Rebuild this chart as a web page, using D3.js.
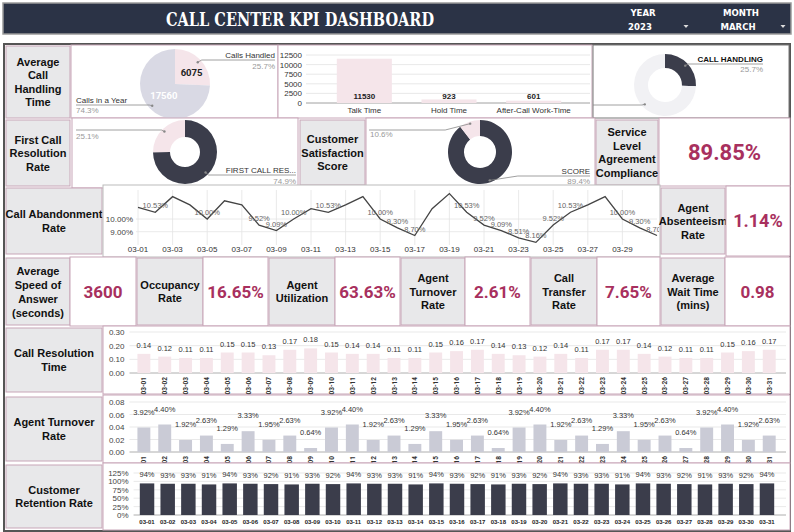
<!DOCTYPE html>
<html>
<head>
<meta charset="utf-8">
<script src="https://cdn.jsdelivr.net/npm/d3@7"></script>
<style>body{margin:0;background:#fff}</style>
</head>
<body>
<div id="dash"></div>
<script>
// Data
var days = ["03-01","03-02","03-03","03-04","03-05","03-06","03-07","03-08","03-09","03-10",
  "03-11","03-12","03-13","03-14","03-15","03-16","03-17","03-18","03-19","03-20",
  "03-21","03-22","03-23","03-24","03-25","03-26","03-27","03-28","03-29","03-30","03-31"];
var callsCats = ["Calls Handled", "Calls in a Year"];
var callsValues = [6075, 17560];
var handlingCats = ["Talk Time", "Hold Time", "After-Call Work-Time"];
var handlingTimes = [11530, 923, 601];
var handlingTicks = [0, 2500, 5000, 7500, 10000, 12500];
var callHandlingShare = [25.7, 74.3];
var fcrShare = [74.9, 25.1];
var csatShare = [89.4, 10.6];
var abandonRate = [10.92,10.53,11.76,11.11,10.00,11.43,11.11,9.52,9.09,10.00,10.81,10.53,11.11,11.76,10.00,9.30,
  8.70,10.81,12.00,10.53,9.52,9.09,8.51,8.16,9.52,10.53,11.11,11.76,10.00,9.30,8.70];
var resolutionTime = [0.14,0.12,0.11,0.11,0.15,0.15,0.13,0.17,0.18,0.15,0.14,0.14,0.11,0.11,0.15,0.16,
  0.17,0.14,0.13,0.12,0.14,0.11,0.17,0.17,0.14,0.12,0.11,0.11,0.15,0.16,0.17];
var turnoverRate = [0.0392,0.0440,0.0192,0.0263,0.0129,0.0333,0.0195,0.0263,0.0064,0.0392,0.0440,0.0192,0.0263,
  0.0129,0.0333,0.0195,0.0263,0.0064,0.0392,0.0440,0.0192,0.0263,0.0129,0.0333,0.0195,0.0263,0.0064,0.0392,0.0440,0.0192,0.0263];
var retentionRate = [0.94,0.93,0.93,0.91,0.94,0.93,0.92,0.91,0.93,0.92,0.94,0.93,0.93,0.91,0.94,0.93,
  0.92,0.91,0.93,0.92,0.94,0.93,0.93,0.91,0.94,0.93,0.92,0.91,0.93,0.92,0.94];

var W = 794, H = 532;
var pink = "#f5e5ea", lav = "#d9d9e4", dark = "#3b3d4b", crimson = "#a8305e", line = "#c8a6b8";

var svg = d3.select("#dash").append("svg")
  .attr("width", W).attr("height", H)
  .style("font-family", "Roboto, sans-serif");

// Header
svg.append("rect").attr("x", 3).attr("y", 3).attr("width", 788).attr("height", 31)
  .attr("fill", "#2b3346").attr("stroke", "#9a9a9a").attr("stroke-width", 1.5);
svg.append("text").attr("x", 300).attr("y", 26).attr("text-anchor", "middle").attr("fill", "#fff")
  .style("font-family", "'DejaVu Serif Condensed', 'DejaVu Serif', serif")
  .style("font-weight", "bold").style("font-size", "19px")
  .attr("textLength", 268).attr("lengthAdjust", "spacingAndGlyphs")
  .text("CALL CENTER KPI DASHBOARD");

function headerPick(x, title, val, ax) {
  svg.append("text").attr("x", x).attr("y", 16).attr("text-anchor", "middle").attr("fill", "#fff")
    .style("font-family", "'DejaVu Sans Condensed', sans-serif").style("font-weight", "bold")
    .style("font-size", "9.5px").text(title);
  svg.append("text").attr("x", x - 3).attr("y", 30).attr("text-anchor", "middle").attr("fill", "#fff")
    .style("font-family", "'DejaVu Sans Condensed', sans-serif").style("font-weight", "bold")
    .style("font-size", "9.5px").text(val);
  svg.append("path").attr("d", "M" + (ax - 2.5) + ",25 L" + (ax + 2.5) + ",25 L" + ax + ",28 Z").attr("fill", "#ddd");
}
headerPick(643, "YEAR", "2023", 686);
headerPick(741, "MONTH", "MARCH", 783);

// Outer frame
svg.append("rect").attr("x", 4).attr("y", 44).attr("width", 786).attr("height", 487)
  .attr("fill", "#fff").attr("stroke", "#555").attr("stroke-width", 2);

// Helpers
function panel(x, y, w, h, stroke) {
  svg.append("rect").attr("x", x).attr("y", y).attr("width", w).attr("height", h)
    .attr("fill", "#fff").attr("stroke", stroke || line).attr("stroke-width", 1);
}
function labelCell(x, y, w, h, lines, lh) {
  lh = lh || 13.5;
  svg.append("rect").attr("x", x).attr("y", y).attr("width", w).attr("height", h)
    .attr("fill", "#e8e8ea").attr("stroke", line).attr("stroke-width", 1);
  var cy = y + h / 2, cx = x + w / 2;
  var t = svg.append("text").attr("text-anchor", "middle").attr("fill", "#111")
    .style("font-family", "'Liberation Sans', Arial, sans-serif")
    .style("font-weight", "bold").style("font-size", "11px");
  lines.forEach(function (s, i) {
    t.append("tspan").attr("x", cx).attr("y", cy - (lines.length - 1) * lh / 2 + 4 + i * lh).text(s);
  });
}
function valueCell(x, y, w, h, txt, fs) {
  panel(x, y, w, h);
  svg.append("text").attr("x", x + w / 2).attr("y", y + h / 2 + (fs || 17) * 0.36)
    .attr("text-anchor", "middle").attr("fill", crimson)
    .style("font-weight", "bold").style("font-size", (fs || 17) + "px").text(txt);
}
function leader(cx, cy, r, ang, yLine, xEnd, ed) {
  var px = cx + Math.sin(ang) * r, py = cy - Math.cos(ang) * r;
  var dir = xEnd > px ? 1 : -1;
  svg.append("polyline")
    .attr("points", [[px, py], [px + dir * ed, yLine], [xEnd, yLine]].map(function (p) { return p.join(","); }).join(" "))
    .attr("fill", "none").attr("stroke", "#888").attr("stroke-width", 0.8);
  svg.append("circle").attr("cx", px).attr("cy", py).attr("r", 1.2).attr("fill", "#888");
}
function chartText(x, y, txt, anchor, color, weight, parent) {
  return (parent || svg).append("text").attr("x", x).attr("y", y).attr("text-anchor", anchor || "start")
    .attr("fill", color || "#333").style("font-size", "8px")
    .style("font-family", "'Liberation Sans', Arial, sans-serif")
    .style("font-weight", weight || "normal").text(txt);
}
function drawPie(cx, cy, rO, rI, values, colors) {
  var arcs = d3.pie().sort(null)(values);
  var arc = d3.arc().innerRadius(rI).outerRadius(rO);
  svg.append("g").attr("transform", "translate(" + cx + "," + cy + ")")
    .selectAll("path").data(arcs).enter().append("path")
    .attr("d", arc).attr("fill", function (d, i) { return colors[i]; });
  return arcs;
}
function mid(a) { return (a.startAngle + a.endAngle) / 2; }

// Row 1
labelCell(6, 46, 64, 72, ["Average", "Call", "Handling", "Time"]);
panel(71, 45, 207, 73);
panel(278, 45, 314, 73);
panel(593, 45, 196, 73, "#777");

// Pie: calls handled
var pcx = 175, pcy = 84, pr = 35;
var pArcs = drawPie(pcx, pcy, pr, 0, callsValues, [pink, lav]);
var c0 = d3.arc().innerRadius(0).outerRadius(pr * 1.15).centroid(pArcs[0]);
svg.append("text").attr("x", pcx + c0[0] + 2).attr("y", pcy + c0[1] + 6).attr("text-anchor", "middle")
  .attr("fill", "#222").style("font-weight", "bold").style("font-size", "9.5px").text(callsValues[0]);
var c1 = d3.arc().innerRadius(0).outerRadius(pr * 1.2).centroid(pArcs[1]);
svg.append("text").attr("x", pcx + c1[0] + 4).attr("y", pcy + c1[1]).attr("text-anchor", "middle")
  .attr("fill", "#fff").style("font-weight", "bold").style("font-size", "9.5px").text(callsValues[1]);
leader(pcx, pcy, pr * 0.9, mid(pArcs[0]), 60, 275, 4);
chartText(275, 58, callsCats[0], "end");
chartText(275, 69, "25.7%", "end", "#999");
leader(pcx, pcy, pr * 0.9, mid(pArcs[1]), 105, 76, 3);
chartText(76, 103, callsCats[1]);
chartText(76, 113, "74.3%", "start", "#999");

// Bar: handling times
var hx = d3.scaleBand().domain(handlingCats).range([322, 576]).paddingInner(0.35).paddingOuter(0.175);
var hy = d3.scaleLinear().domain([0, 12500]).range([103, 55]);
svg.append("g").selectAll("line").data(handlingTicks).enter().append("line")
  .attr("x1", 306).attr("x2", 590).attr("y1", function (d) { return hy(d); }).attr("y2", function (d) { return hy(d); })
  .attr("stroke", function (d) { return d === 0 ? "#888" : "#e2e2e2"; }).attr("stroke-width", 0.8);
handlingTicks.forEach(function (t) { chartText(302, hy(t) + 3, t, "end"); });
svg.append("g").selectAll("rect").data(handlingTimes).enter().append("rect")
  .attr("x", function (d, i) { return hx(handlingCats[i]); })
  .attr("width", hx.bandwidth())
  .attr("y", function (d) { return hy(d); })
  .attr("height", function (d) { return hy(0) - hy(d); })
  .attr("fill", pink);
handlingTimes.forEach(function (v, i) {
  var c = hx(handlingCats[i]) + hx.bandwidth() / 2;
  chartText(c, 99, v, "middle", "#222", "bold");
  chartText(c, 113, handlingCats[i], "middle");
});

// Donut: call handling
var dArcs = drawPie(665, 85, 31, 17, callHandlingShare, [dark, "#f1f1f4"]);
leader(665, 85, 28, mid(dArcs[0]), 64, 763, 3);
chartText(763, 62, "CALL HANDLING", "end", "#111", "bold");
chartText(763, 72, "25.7%", "end", "#999");
leader(665, 85, 28, mid(dArcs[1]), 105, 593, 3);

// Row 2
labelCell(6, 120, 64, 66, ["First Call", "Resolution", "Rate"]);
panel(72, 118, 226, 70);
var fArcs = drawPie(185, 152, 32, 15, fcrShare, [dark, pink]);
leader(185, 152, 29, mid(fArcs[1]), 130, 76, 3);
chartText(76, 139, "25.1%", "start", "#999");
leader(185, 152, 29, mid(fArcs[0]), 175, 296, 3);
chartText(296, 173, "FIRST CALL RES...", "end");
chartText(296, 184, "74.9%", "end", "#999");

labelCell(300, 120, 65, 65, ["Customer", "Satisfaction", "Score"]);
panel(366, 118, 229, 68);
var sArcs = drawPie(480, 152, 32, 16, csatShare, [dark, pink]);
leader(480, 152, 30, mid(sArcs[1]), 130, 369, 25);
chartText(370, 137, "10.6%", "start", "#999");
leader(480, 152, 30, mid(sArcs[0]), 176, 590, 28);
chartText(590, 174, "SCORE", "end");
chartText(590, 184, "89.4%", "end", "#999");

labelCell(596, 120, 62, 65, ["Service", "Level", "Agreement", "Compliance"]);
valueCell(659, 118, 131, 68, "89.85%", 22);

// Row 3: abandonment line
labelCell(6, 188, 96, 66, ["Call Abandonment", "Rate"]);
panel(103, 185, 557, 72, "#bbb");
svg.append("clipPath").attr("id", "lineClip").append("rect")
  .attr("x", 104).attr("y", 186).attr("width", 555).attr("height", 70);
var lg = svg.append("g").attr("clip-path", "url(#lineClip)");
var lx = d3.scalePoint().domain(days).range([138, 657]);
var ly = d3.scaleLinear().domain([8, 12]).range([244.4, 193.6]);
var xTicks = days.filter(function (d, i) { return i % 2 === 0 && i < 30; });
lg.append("g").selectAll("line").data(xTicks).enter().append("line")
  .attr("x1", function (d) { return lx(d); }).attr("x2", function (d) { return lx(d); })
  .attr("y1", 190).attr("y2", 245).attr("stroke", "#e4e4e4").attr("stroke-width", 0.8);
lg.append("g").selectAll("line").data([9, 10]).enter().append("line")
  .attr("x1", 136).attr("x2", 657).attr("y1", function (d) { return ly(d); }).attr("y2", function (d) { return ly(d); })
  .attr("stroke", "#e4e4e4").attr("stroke-width", 0.8);
[9, 10].forEach(function (t) { chartText(133, ly(t) + 3, d3.format(".2f")(t) + "%", "end", "#444", null, lg); });
xTicks.forEach(function (d) { chartText(lx(d), 252, d, "middle", "#333", null, lg); });
lg.append("path").datum(abandonRate)
  .attr("d", d3.line().x(function (d, i) { return lx(days[i]); }).y(function (d) { return ly(d); }))
  .attr("fill", "none").attr("stroke", "#444").attr("stroke-width", 1.3);
abandonRate.forEach(function (v, i) {
  if (v < 10.6) chartText(lx(days[i]), ly(v) - 4, d3.format(".2f")(v) + "%", "middle", "#666", null, lg)
    .style("font-size", "7.5px");
});

labelCell(661, 188, 64, 66, ["Agent", "Absenteeism", "Rate"]);
valueCell(726, 186, 64, 70, "1.14%", 18);

// Row 4 KPIs
labelCell(6, 258, 64, 67, ["Average", "Speed of", "Answer", "(seconds)"], 14);
valueCell(70, 257, 66, 69, "3600");
labelCell(137, 258, 66, 67, ["Occupancy", "Rate"]);
valueCell(203, 257, 65, 69, "16.65%");
labelCell(269, 258, 66, 67, ["Agent", "Utilization"]);
valueCell(335, 257, 65, 69, "63.63%");
labelCell(401, 258, 64, 67, ["Agent", "Turnover", "Rate"]);
valueCell(465, 257, 65, 69, "2.61%");
labelCell(531, 258, 66, 67, ["Call", "Transfer", "Rate"]);
valueCell(597, 257, 63, 69, "7.65%");
labelCell(661, 258, 64, 67, ["Average", "Wait Time", "(mins)"]);
valueCell(725, 257, 65, 69, "0.98");

// Daily bar rows
function barRow(o) {
  panel(103, o.top, 687, o.h);
  labelCell(6, o.top + 2, 96, o.h - 4, o.label);
  var x = d3.scaleBand().domain(days).range(o.xr).padding(o.pad);
  var y = d3.scaleLinear().domain(o.domain).range(o.yr);
  svg.append("g").selectAll("line").data(o.ticks).enter().append("line")
    .attr("x1", o.xr[0]).attr("x2", 786).attr("y1", function (d) { return y(d); }).attr("y2", function (d) { return y(d); })
    .attr("stroke", function (d) { return d === 0 ? "#999" : "#e3e3e3"; }).attr("stroke-width", 0.8);
  o.ticks.forEach(function (t) { chartText(o.xr[0] - 5, y(t) + 3, d3.format(o.tf)(t), "end", "#444"); });
  svg.append("g").selectAll("rect").data(o.values).enter().append("rect")
    .attr("x", function (d, i) { return x(days[i]); }).attr("width", x.bandwidth())
    .attr("y", function (d) { return y(d); }).attr("height", function (d) { return y(0) - y(d); })
    .attr("fill", o.fill);
  o.values.forEach(function (v, i) {
    var c = x(days[i]) + x.bandwidth() / 2;
    chartText(c, y(v) - o.lo, d3.format(o.vf)(v), "middle", "#333").style("font-size", "7.5px");
    if (o.rot) {
      svg.append("text").attr("transform", "translate(" + (c + 2.5) + "," + (y(0) + 4) + ") rotate(-90)")
        .attr("text-anchor", "end").attr("fill", "#333").style("font-size", "6.5px").style("font-weight", "bold")
        .text(days[i]);
    } else {
      chartText(c, y(0) + 9, days[i], "middle", "#222", "bold").style("font-size", "6px");
    }
  });
}
barRow({ top: 326, h: 68, label: ["Call Resolution", "Time"], values: resolutionTime,
  xr: [129.5, 783.6], pad: 0.38, domain: [0, 0.3], yr: [373, 332], ticks: [0, 0.1, 0.2, 0.3],
  tf: ".2f", vf: ".2f", fill: pink, lo: 6, rot: true });
barRow({ top: 395, h: 68, label: ["Agent Turnover", "Rate"], values: turnoverRate,
  xr: [129.5, 783.6], pad: 0.38, domain: [0, 0.08], yr: [452, 402], ticks: [0, 0.02, 0.04, 0.06, 0.08],
  tf: ".2f", vf: ".2%", fill: "#cacbd6", lo: 13, rot: true });
barRow({ top: 463, h: 67, label: ["Customer", "Retention Rate"], values: retentionRate,
  xr: [133.6, 780.4], pad: 0.3, domain: [0, 1.25], yr: [515, 473], ticks: [0, 0.25, 0.5, 0.75, 1, 1.25],
  tf: ".0%", vf: ".0%", fill: dark, lo: 6, rot: false });
</script>
</body>
</html>
